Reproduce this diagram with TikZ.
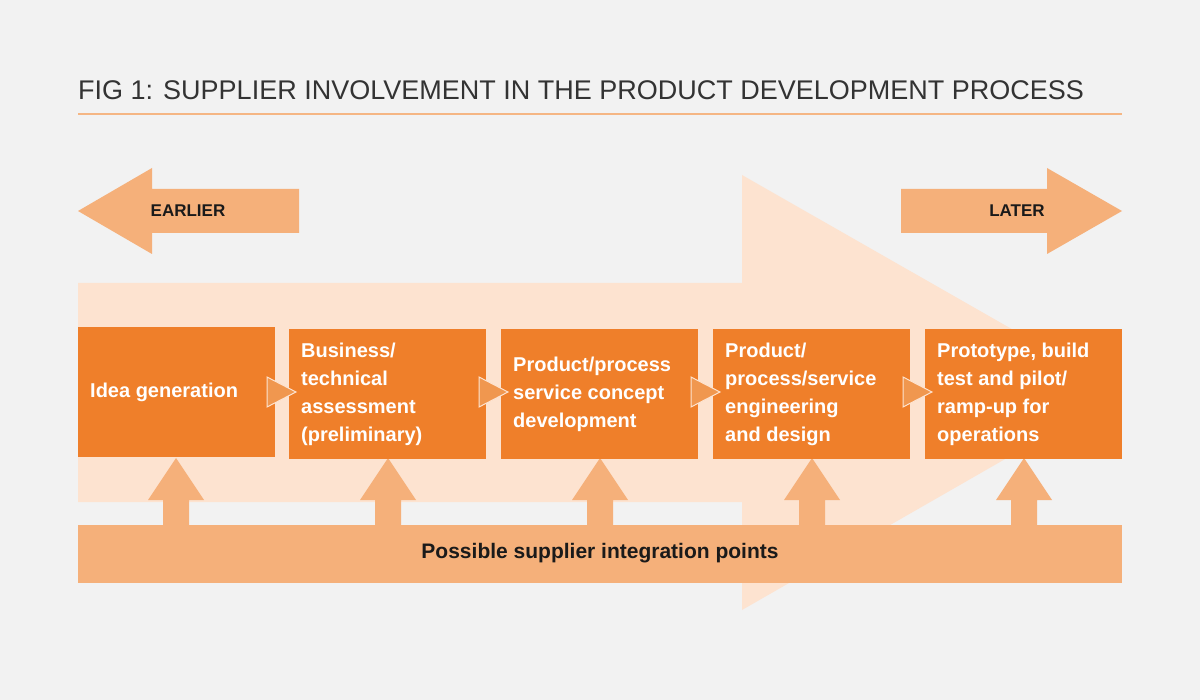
\documentclass[tikz,border=0pt]{standalone}
\usepackage{fontspec}
\setmainfont{Liberation Sans}
\definecolor{bg}{HTML}{F2F2F2}
\definecolor{pale}{HTML}{FDE3D0}
\definecolor{mid}{HTML}{F5B07A}
\definecolor{org}{HTML}{EF7F2A}
\definecolor{tri}{HTML}{F0974F}
\definecolor{dark}{HTML}{1A1A1A}
\definecolor{titlec}{HTML}{333333}
\begin{document}
\begin{tikzpicture}[x=1pt,y=-1pt,
  stagebox/.style={fill=org,minimum width=197pt,minimum height=130pt,anchor=north west,inner sep=0pt},
  stagetext/.style={text=white,font=\fontsize{20}{28}\selectfont\bfseries,align=left,anchor=west,inner sep=0pt},
  chev/.style={fill=tri,draw=pale,line width=1pt},
  uparrow/.style={fill=mid}]
\fill[bg] (0,0) rectangle (1200,700);
\useasboundingbox (0,0) rectangle (1200,700);
\node[anchor=base west,inner sep=0pt,text=titlec,font=\fontsize{27}{30}\selectfont] (title) at (78,100) {FIG 1: SUPPLIER INVOLVEMENT IN THE PRODUCT DEVELOPMENT PROCESS};
\draw[tri!70,line width=1.3pt] (78,114) -- (1122,114);
% big arrow
\fill[pale] (78,283) -- (742,283) -- (742,175) -- (1122,392) -- (742,610) -- (742,502) -- (78,502) -- cycle;
% earlier / later
\fill[mid] (78,211) -- (152,168) -- (152,189) -- (299,189) -- (299,233) -- (152,233) -- (152,254) -- cycle;
\node[font=\fontsize{17}{18}\selectfont\bfseries,text=dark] (earlier) at (188,211) {EARLIER};
\fill[mid] (1122,211) -- (1047,168) -- (1047,189) -- (901,189) -- (901,233) -- (1047,233) -- (1047,254) -- cycle;
\node[font=\fontsize{17}{18}\selectfont\bfseries,text=dark] (later) at (1017,211) {LATER};
% bar
\fill[mid] (78,525) rectangle (1122,583);
\node[font=\fontsize{21}{24}\selectfont\bfseries,text=dark] (bar) at (600,553) {Possible supplier integration points};
% up arrows
\foreach \c in {176,388,600,812,1024}{
  \fill[mid] (\c-13,526) -- (\c-13,500) -- (\c-28,500) -- (\c,458) -- (\c+28,500) -- (\c+13,500) -- (\c+13,526) -- cycle;
}
% boxes
\node[stagebox] (b1) at (78,327) {};
\node[stagebox] (b2) at (289,329) {};
\node[stagebox] (b3) at (501,329) {};
\node[stagebox] (b4) at (713,329) {};
\node[stagebox] (b5) at (925,329) {};
\node[stagetext] (t1) at (90,392) {Idea generation};
\node[stagetext] (t2) at (301,394) {Business/\\technical\\assessment\\(preliminary)};
\node[stagetext] (t3) at (513,394) {Product/process\\service concept\\development};
\node[stagetext] (t4) at (725,394) {Product/\\process/service\\engineering\\and design};
\node[stagetext] (t5) at (937,394) {Prototype, build\\test and pilot/\\ramp-up for\\operations};
% chevrons
\foreach \x in {267,479,691,903}{
  \draw[chev] (\x,377) -- (\x+29,392) -- (\x,407) -- cycle;
}
\end{tikzpicture}
\end{document}
